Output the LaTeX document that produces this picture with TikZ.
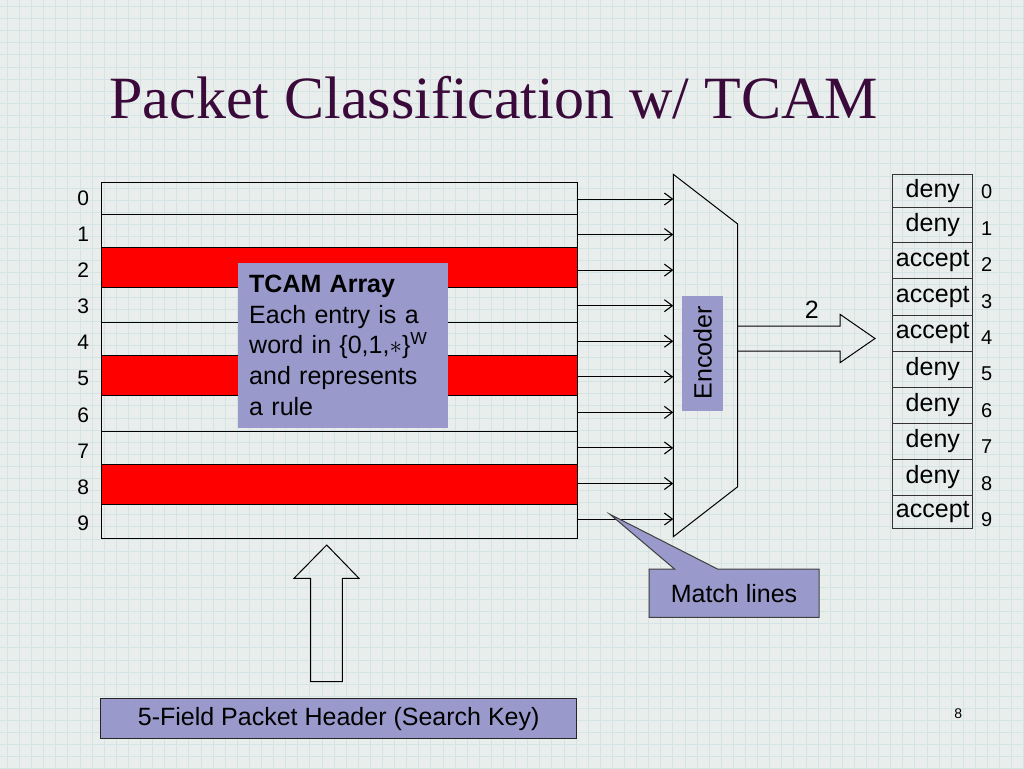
\documentclass[tikz,border=0pt]{standalone}
\usepackage{fontspec}
\setmainfont{Liberation Sans}
\newfontfamily\titlefont{Liberation Serif}
\usetikzlibrary{arrows.meta,shapes.callouts}
\definecolor{paper}{RGB}{233,237,236}
\definecolor{gridline}{RGB}{212,227,227}
\definecolor{lavender}{RGB}{153,153,204}
\definecolor{titlepurple}{RGB}{58,10,58}
\begin{document}
\begin{tikzpicture}[x=1pt,y=-1pt,
    font=\fontsize{25}{30}\selectfont,
    rowbox/.style={draw=black, line width=1pt, minimum width=476pt, inner sep=0pt, anchor=north west},
    cell/.style={draw=black!80, line width=1pt, minimum width=80pt, inner sep=0pt, anchor=north west},
    num/.style={font=\fontsize{21}{24}\selectfont},
    idx/.style={font=\fontsize{20}{23}\selectfont},
    match/.style={line width=1pt, -{Straight Barb[length=8pt,width=12pt,line width=1.1pt]}},
    blue box/.style={fill=lavender}]
  \useasboundingbox (0,0) rectangle (1024,768);
  % paper
  \fill[paper] (0,0) rectangle (1024,768);
  \foreach \k in {0,...,84}
    \draw[gridline, line width=0.8pt] (7.3+\k*12.1,0) -- ++(0,768);
  \foreach \k in {0,...,63}
    \draw[gridline, line width=0.8pt] (0,6.5+\k*12.1) -- ++(1024,0);

  \node[font=\titlefont\fontsize{60}{64}\selectfont, text=titlepurple, anchor=base] (title) at (493.5,118) {Packet Classification w/ TCAM};

  % TCAM array
  \foreach \i/\ya/\yb/\c in {0/182.3/214.3/none, 1/214.3/246.7/none, 2/246.7/286.7/red,
      3/286.7/322.3/none, 4/322.3/355/none, 5/355/395/red, 6/395/431/none,
      7/431/464.3/none, 8/464.3/504.3/red, 9/504.3/538.3/none}
    \node[rowbox, fill=\c, minimum height=\yb-\ya] (R\i) at (100.7,\ya) {};
  \foreach \i in {0,...,9}
    \node[num] (L\i) at (83.3,198.3+\i*36.1) {\i};

  \node[blue box, anchor=north west, minimum width=209.6pt, minimum height=165.4pt,
        text width=187pt, inner xsep=11.3pt, inner ysep=12pt, align=left,
        font=\fontsize{25}{30.7}\selectfont] (note) at (237.7,262.3)
    {\textbf{TCAM Array}\\Each entry is a\\word in \{0,1,$\ast$\}\textsuperscript{W}\\and represents\\a rule};

  % encoder
  \coordinate (enc-a) at (673.3,174.3);
  \coordinate (enc-b) at (737.7,224);
  \coordinate (enc-c) at (737.7,486.7);
  \coordinate (enc-d) at (673.3,536.7);
  \draw[line width=1pt] (enc-a) -- (enc-b) -- (enc-c) -- (enc-d) -- cycle;
  \node[blue box, rotate=90, minimum width=115pt, minimum height=41pt, inner sep=0pt] (enc) at (702.8,353) {Encoder};

  % match lines
  \foreach \i in {0,...,9} {
    \coordinate (M\i) at (577,199+\i*35.56);
    \coordinate (E\i) at (673.3,199+\i*35.56);
    \path (M\i) edge [match] (E\i);
  }

  % result
  \draw[line width=1pt] (737.7,326) -- (840,326) -- (840,314.3) -- (875,338.5)
    -- (840,362.7) -- (840,351) -- (737.7,351);
  \node (res) at (811.7,310) {2};

  % action table
  \foreach \i/\ya/\yb/\w in {0/174.3/206.7/deny, 1/206.7/242.3/deny, 2/242.3/278.3/accept,
      3/278.3/315/accept, 4/315/351/accept, 5/351/386.7/deny, 6/386.7/422.7/deny,
      7/422.7/459/deny, 8/459/495/deny, 9/495/528.3/accept}
    \node[cell, minimum height=\yb-\ya] (C\i) at (892.3,\ya) {\w};
  \foreach \i in {0,...,9}
    \node[idx] (N\i) at (986.7,191.7+\i*36.48) {\i};

  % search key
  \node[blue box, draw=black!85, line width=1pt, minimum width=476pt, minimum height=40.7pt] (key) at (338.7,718.6)
    {5-Field Packet Header (Search Key)};
  \draw[line width=1pt] (310.7,681.7) -- (310.7,578.3) -- (294,578.3) -- (326.7,545)
    -- (359,578.3) -- (342.3,578.3) -- (342.3,681.7) -- cycle;

  \node[rectangle callout, blue box, draw=black!75, line width=1pt, minimum width=170pt, minimum height=48.3pt,
        callout absolute pointer={(610,514.3)}, callout pointer width=43pt] (ml) at (734,593.2) {Match lines};

  \node[font=\fontsize{14}{16}\selectfont] (page) at (958.3,713.3) {8};
\end{tikzpicture}
\end{document}
